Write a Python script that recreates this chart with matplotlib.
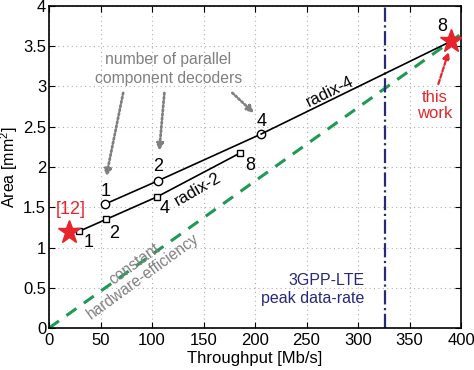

# =============================================================================
#                             Importing Modules
# =============================================================================

import numpy as np
import matplotlib
matplotlib.use('Agg')
import matplotlib.pyplot as plt

plt.rcParams['font.family'] = ['Liberation Sans', 'DejaVu Sans']
plt.rcParams['mathtext.fontset'] = 'custom'
plt.rcParams['mathtext.rm'] = 'Liberation Sans'

# =============================================================================
#                                  Data
# =============================================================================

# radix-4 decoders (circles), throughput in Mb/s, area in mm^2
r4_pcd = ['1', '2', '4', '8']
r4_thr = [54.5, 106, 206, 390]
r4_area = [1.54, 1.83, 2.41, 3.56]

# radix-2 decoders (squares)
r2_pcd = ['1', '2', '4', '8']
r2_thr = [29, 55.5, 105, 185]
r2_area = [1.20, 1.35, 1.63, 2.17]

# reference design [12]
ref_thr = 19.5
ref_area = 1.19

# 3GPP-LTE peak data-rate
lte_rate = 326.4

x_ticks = [0, 50, 100, 150, 200, 250, 300, 350, 400]
y_ticks = [0, 0.5, 1, 1.5, 2, 2.5, 3, 3.5, 4]

green = '#1f9a55'
navy = '#262a78'
red = '#e5252b'
gray = '#808080'

# =============================================================================
#                                  Figure
# =============================================================================

fig = plt.figure(figsize=(4.74, 3.70), dpi=100)
ax = fig.add_axes([0.1034, 0.1135, 0.8692, 0.8703])

# constant hardware-efficiency line through this work
eff = r4_area[-1] / r4_thr[-1]
xs = np.array([0, 400])
ax.plot(xs, xs * eff, color=green, ls=(0, (4, 3)), lw=2.2, zorder=2)

# LTE rate
ax.axvline(lte_rate, color=navy, ls='-.', lw=1.6, zorder=2)

# radix-4 / radix-2 curves
ax.plot(r4_thr[:3], r4_area[:3], color='black', lw=1.2, marker='o', ms=6,
        mfc='white', mec='black', mew=1.0, zorder=3)
ax.plot(r4_thr[2:], r4_area[2:], color='black', lw=1.2, zorder=3)
ax.plot([ref_thr + 9, r2_thr[0]], [r2_area[0], r2_area[0]], color='black', lw=1.2, zorder=3)
ax.plot(r2_thr, r2_area, color='black', lw=1.2, marker='s', ms=5,
        mfc='white', mec='black', mew=1.0, zorder=3)

# stars
ax.plot(ref_thr, ref_area, marker='*', ms=17, color=red, mec=red, zorder=4)
ax.plot(r4_thr[-1], r4_area[-1], marker='*', ms=17, color=red, mec=red, zorder=4)

# number labels
r4_off = [(0, 0.15), (0, 0.17), (0, 0.15), (-8, 0.18)]
for lab, x, y, (dx, dy) in zip(r4_pcd, r4_thr, r4_area, r4_off):
    ax.text(x + dx, y + dy, lab, fontsize=13, ha='center', va='center')
r2_off = [(9, -0.14), (8, -0.17), (7, -0.14), (10, -0.15)]
for lab, x, y, (dx, dy) in zip(r2_pcd, r2_thr, r2_area, r2_off):
    ax.text(x + dx, y + dy, lab, fontsize=13, ha='center', va='center')

ax.text(21, 1.47, '[12]', color=red, fontsize=13, ha='center', va='center')
ax.text(374, 2.76, 'this\nwork', color=red, fontsize=12, ha='center',
        va='center', linespacing=1.1)
ax.annotate('', xy=(388, 3.43), xytext=(378, 3.03),
            arrowprops=dict(arrowstyle='-|>', color=red, lw=1.6, ls=(0, (2, 1)),
                            mutation_scale=10, shrinkA=0, shrinkB=0))

ax.text(273, 2.93, 'radix-4', fontsize=12, rotation=26, ha='center', va='center')
ax.text(145, 1.72, 'radix-2', fontsize=12, rotation=30, ha='center', va='center')
ax.text(87, 0.72, 'constant\nhardware-efficiency', color=gray, fontsize=11.2,
        rotation=36, ha='center', va='center', linespacing=1.0)
ax.text(306, 0.48, '3GPP-LTE\npeak data-rate', color=navy, fontsize=11.5,
        ha='right', va='center', linespacing=1.2)

ax.text(116, 3.22, 'number of parallel\ncomponent decoders', color=gray,
        fontsize=11.3, ha='center', va='center', linespacing=1.3)
arrows = [((72, 2.92), (55.5, 1.88)),
          ((112, 2.92), (107, 2.2)),
          ((178, 2.92), (199, 2.67))]
for (x0, y0), (x1, y1) in arrows:
    ax.annotate('', xy=(x1, y1), xytext=(x0, y0),
                arrowprops=dict(arrowstyle='-|>', color=gray, lw=2.0,
                                ls=(0, (0.6, 0.9)), mutation_scale=10,
                                shrinkA=0, shrinkB=0))

# axes settings
ax.set_xlim(0, 400)
ax.set_ylim(0, 4)
ax.set_xticks(x_ticks)
ax.set_yticks(y_ticks)
ax.set_xticklabels([str(v) for v in x_ticks])
ax.set_yticklabels(['0', '0.5', '1', '1.5', '2', '2.5', '3', '3.5', '4'])
ax.tick_params(direction='in', top=True, right=True, labelsize=12, length=4)
ax.tick_params(axis='y', pad=2)
ax.grid(True, color='#b0b0b0', ls=(0, (1, 3)), lw=0.8)
for s in ax.spines.values():
    s.set_linewidth(1.2)
ax.set_xlabel('Throughput [Mb/s]', fontsize=12, labelpad=2)
ax.set_ylabel('Area [mm$^2$]', fontsize=11.5)
ax.yaxis.set_label_coords(-0.07, 0.5)

fig.savefig('out.png', dpi=100)
